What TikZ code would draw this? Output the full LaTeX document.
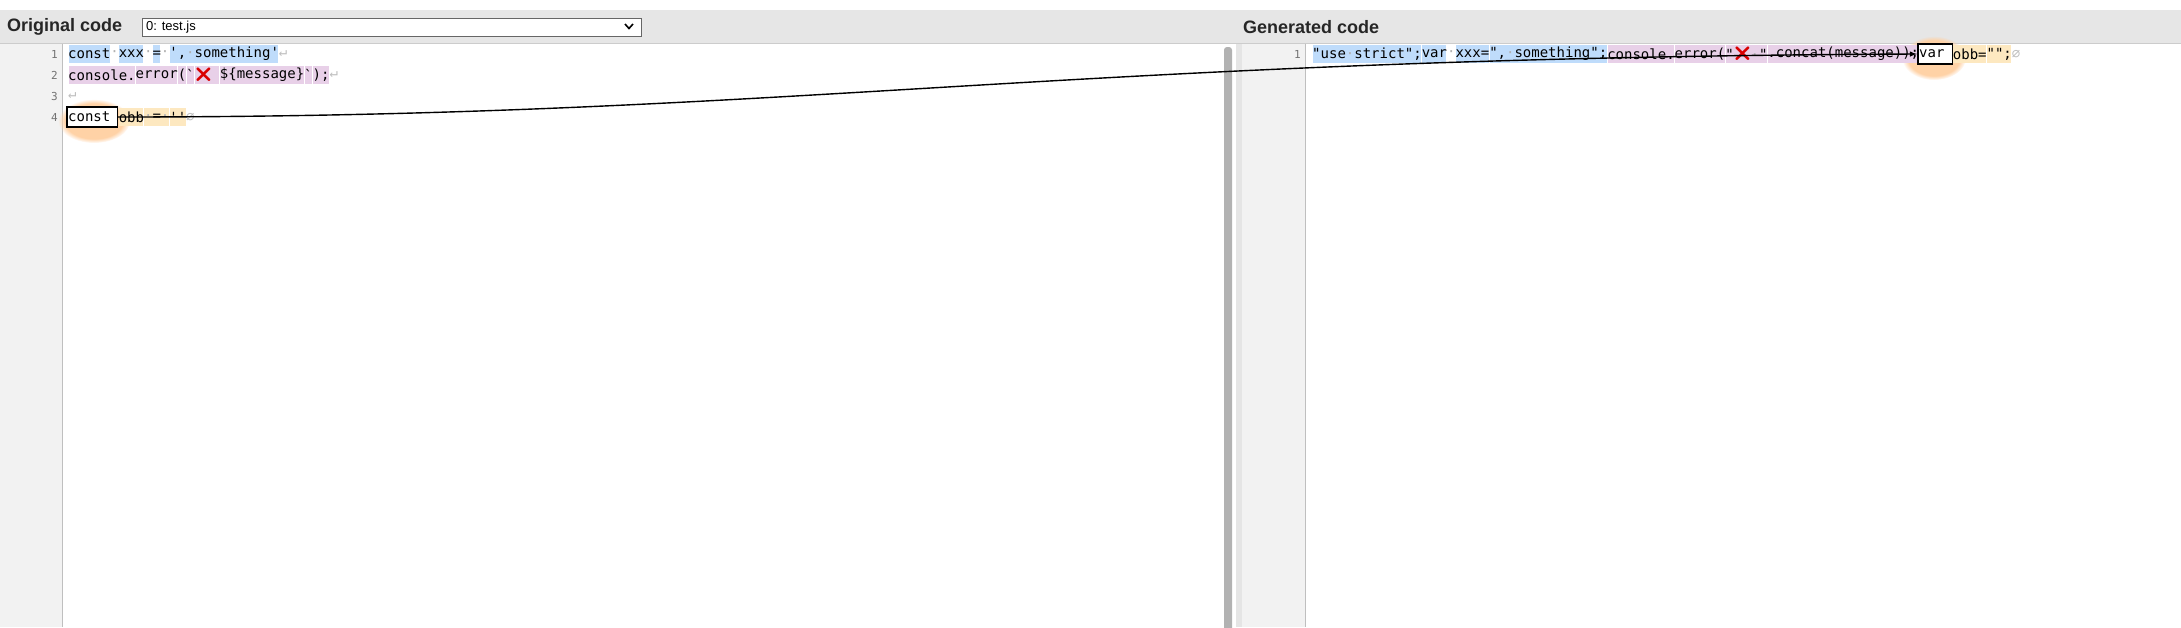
\documentclass[tikz,border=0pt]{standalone}
\usepackage{fontspec}
\setmainfont{Liberation Sans}
\newfontfamily\mono{DejaVu Sans Mono}
\newfontfamily\emo{Noto Emoji}
\usetikzlibrary{fadings}
\definecolor{hblue}{HTML}{BFDCFB}
\definecolor{hpink}{HTML}{E8D0E8}
\definecolor{horan}{HTML}{FDE8C0}
\definecolor{hdr}{HTML}{E6E6E6}
\definecolor{gut}{HTML}{F2F2F2}
\newcommand{\cw}{8.43}
\newcommand{\dt}{{\color{black!30}·}}
% \tok{x0}{y}{start}{end}{color}{text}
\newcommand{\tok}[6]{\fill[#5] ({#1+#3*\cw+0.5},{#2-9}) rectangle ({#1+#4*\cw-0.5},{#2+9});
  \node[codetxt] at ({#1+#3*\cw},#2) {#6};}
\begin{document}
\begin{tikzpicture}[x=1pt,y=-1pt,
  codetxt/.style={anchor=west,inner sep=0pt,font=\mono\fontsize{14}{14}\selectfont},
  lnum/.style={anchor=east,inner sep=0pt,font=\mono\fontsize{11}{11}\selectfont,text=black!55},
  title/.style={anchor=west,inner sep=0pt,font=\bfseries\fontsize{18}{18}\selectfont,text=black!85},
  mapbox/.style={draw=black,line width=1.6pt,fill=white,inner sep=0pt,minimum height=20pt,anchor=west}]
\useasboundingbox (0,0) rectangle (2181,627);
\fill[white] (0,0) rectangle (2181,627);
% header
\fill[hdr] (0,10) rectangle (2181,43);
\draw[black!20] (0,43) -- (2181,43);
\node[title] (t1) at (7,27) {Original code};
\node[title] (t2) at (1243,27) {Generated code};
\node[draw=black!60,fill=white,minimum width=499pt,minimum height=18pt,inner sep=0pt,anchor=west] (sel) at (142,27) {};
\node[anchor=west,inner sep=0pt,font=\fontsize{13}{13}\selectfont] at (146,27) {0: test.js};
\draw[line width=1.6pt] (625,24) -- (629,28.5) -- (633,24);
% gutters
\fill[gut] (0,43.5) rectangle (62,627);
\draw[black!25] (62.5,43.5) -- (62.5,627);
\fill[gut] (1237,43.5) rectangle (1305,627);
\draw[black!25] (1305.5,43.5) -- (1305.5,627);
\fill[black!10] (1236,43.5) rectangle (1242,627);
\fill[black!30,rounded corners=3pt] (1224,47) rectangle (1232,640);
% line numbers
\node[lnum] at (58,54) {1};
\node[lnum] at (58,75) {2};
\node[lnum] at (58,96) {3};
\node[lnum] at (58,117) {4};
\node[lnum] at (1301,54) {1};
% glows
\fill[orange!35,path fading=circle with fuzzy edge 20 percent] (94,121) ellipse (36 and 22);
\fill[orange!35,path fading=circle with fuzzy edge 20 percent] (1934,58) ellipse (32 and 22);
% original line 1
\tok{68}{54}{0}{5}{hblue}{const}
\tok{68}{54}{6}{9}{hblue}{xxx}
\tok{68}{54}{10}{11}{hblue}{=}
\tok{68}{54}{12}{25}{hblue}{',\dt something'}
\node[codetxt] at ({68+5*\cw},54) {\dt};
\node[codetxt] at ({68+9*\cw},54) {\dt};
\node[codetxt] at ({68+11*\cw},54) {\dt};
\node[codetxt] at ({68+25*\cw},54) {\color{black!25}↵};
% line 2
\tok{68}{75}{0}{8}{hpink}{console.}
\tok{68}{75}{8}{13}{hpink}{error}
\tok{68}{75}{13}{14}{hpink}{(}
\tok{68}{75}{14}{15}{hpink}{`}
\tok{68}{75}{15}{18}{hpink}{}
\node[codetxt] at ({68+15*\cw},75) {\emo\color{red!85!black}❌};
\tok{68}{75}{18}{28}{hpink}{\$\{message\}}
\tok{68}{75}{28}{29}{hpink}{`}
\tok{68}{75}{29}{31}{hpink}{);}
\node[codetxt] at ({68+31*\cw},75) {\color{black!25}↵};
% line 3
\node[codetxt] at (68,96) {\color{black!25}↵};
% line 4
\tok{68}{117}{6}{9}{horan}{obb}
\tok{68}{117}{9}{12}{horan}{\dt=\dt}
\tok{68}{117}{12}{14}{horan}{''}
\node[codetxt] at ({68+14*\cw},117) {\color{black!25}∅};
\node[mapbox,minimum width={6*\cw}] (src) at (66,117) {};
\node[codetxt] at (68,117) {const};
% generated line
\tok{1312}{54}{0}{13}{hblue}{"use\dt strict";}
\tok{1312}{54}{13}{16}{hblue}{var}
\tok{1312}{54}{17}{21}{hblue}{xxx=}
\tok{1312}{54}{21}{35}{hblue}{",\dt something";}
\node[codetxt] at ({1312+16*\cw},54) {\dt};
\tok{1312}{54}{35}{43}{hpink}{console.}
\tok{1312}{54}{43}{49}{hpink}{error(}
\tok{1312}{54}{49}{54}{hpink}{"}
\node[codetxt] at ({1312+50*\cw},54) {\emo\color{red!85!black}❌};
\node[codetxt] at ({1312+52*\cw},54) {\dt"};
\tok{1312}{54}{54}{72}{hpink}{.concat(message));}
\tok{1312}{54}{76}{80}{horan}{obb=}
\tok{1312}{54}{80}{83}{horan}{"";}
\node[codetxt] at ({1312+83*\cw},54) {\color{black!25}∅};
\node[mapbox,minimum width={4*\cw+1}] (dst) at ({1312+72*\cw-2},54) {};
\node[codetxt] at ({1312+72*\cw},54) {var};
% mapping
\draw[line width=1.4pt,-latex] (src.east) .. controls (800,117) and (1050,58) .. (dst.west);
\end{tikzpicture}
\end{document}
